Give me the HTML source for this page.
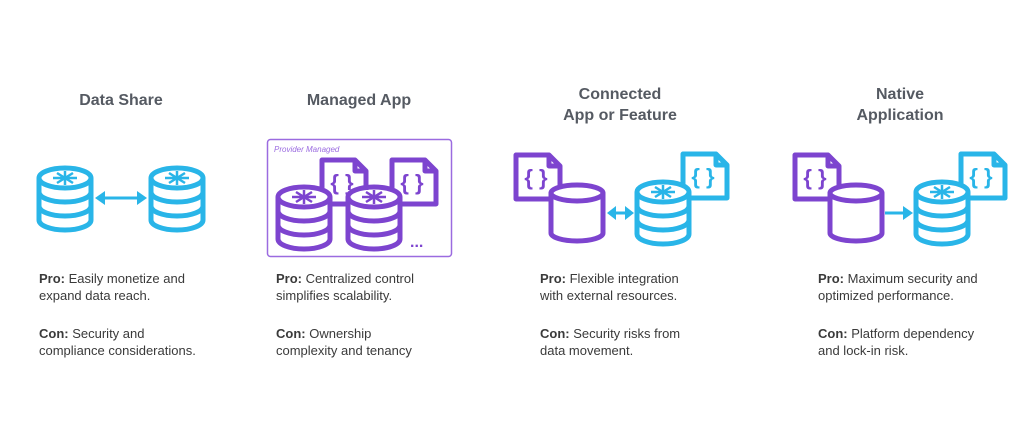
<!DOCTYPE html>
<html><head><meta charset="utf-8"><style>
html,body{margin:0;padding:0;background:#fff;width:1033px;height:445px;overflow:hidden}
svg{display:block}
.t{font-family:"Liberation Sans",sans-serif;font-weight:bold;font-size:16px;fill:#555a62;text-anchor:middle}
.p{font-family:"Liberation Sans",sans-serif;font-size:13px;fill:#3a3a3a}
.p tspan.b{font-weight:bold}
</style></head><body>
<svg width="1033" height="445" viewBox="0 0 1033 445" xmlns="http://www.w3.org/2000/svg">
<defs>
<g id="db" fill="none" stroke="currentColor" stroke-width="5" stroke-linejoin="round">
 <ellipse cx="29" cy="12" rx="26" ry="10"/>
 <path d="M3 12 V54 A26 10 0 0 0 55 54 V12"/>
 <path d="M3 26 A26 10 0 0 0 55 26"/>
 <path d="M3 40 A26 10 0 0 0 55 40"/>
 <path d="M17 12 H41 M29 5 V19 M21 7 L37 17 M21 17 L37 7" stroke-width="2.5"/>
</g>
<g id="cyl" stroke="currentColor" stroke-width="5" stroke-linejoin="round">
 <path d="M3 10 V50 A26 8 0 0 0 55 50 V10" fill="#fff"/>
 <ellipse cx="29" cy="10" rx="26" ry="8" fill="#fff"/>
</g>
<g id="doc" stroke="currentColor" stroke-width="5" stroke-linejoin="round">
 <path d="M3 3 H36 L47 14 V47 H3 Z" fill="#fff"/>
 <path d="M36 3 V14 H47" fill="none"/>
 <text x="23" y="33" font-family="Liberation Sans,sans-serif" font-weight="bold" font-size="22" text-anchor="middle" stroke="none" fill="currentColor">{ }</text>
</g>
</defs>

<text class="t" x="121" y="105">Data Share</text>
<text class="t" x="359" y="105">Managed App</text>
<text class="t" x="620" y="99">Connected</text>
<text class="t" x="620" y="120">App or Feature</text>
<text class="t" x="900" y="99">Native</text>
<text class="t" x="900" y="120">Application</text>

<g style="color:#29b5e8">
<use href="#db" x="36" y="166"/>
<use href="#db" x="148" y="166"/>
</g>
<path d="M100 198 H142" stroke="#29b5e8" stroke-width="3"/>
<path d="M95 198 L105 191 V205 Z M147 198 L137 191 V205 Z" fill="#29b5e8"/>

<rect x="267.5" y="139.5" width="184" height="117" rx="3" fill="none" stroke="#9b6be0" stroke-width="1.5"/>
<text x="274" y="152" font-family="Liberation Sans,sans-serif" font-style="italic" font-size="8" fill="#9b6be0">Provider Managed</text>
<g style="color:#7d44cf">
<use href="#doc" x="319" y="157"/>
<use href="#doc" x="389" y="157"/>
<rect x="277" y="190" width="52" height="60" fill="#fff"/>
<use href="#db" x="275" y="185"/>
<rect x="347" y="190" width="52" height="60" fill="#fff"/>
<use href="#db" x="345" y="185"/>
</g>
<text x="410" y="247" font-family="Liberation Sans,sans-serif" font-weight="bold" font-size="16" fill="#7d44cf">...</text>

<g style="color:#7d44cf"><use href="#doc" x="513" y="152"/><use href="#cyl" x="548" y="183"/></g>
<g style="color:#29b5e8"><use href="#doc" x="680" y="151"/><rect x="637" y="186" width="52" height="55" fill="#fff"/><use href="#db" x="634" y="180"/></g>
<path d="M607 213 L616 206 V220 Z M634 213 L625 206 V220 Z" fill="#29b5e8"/>
<path d="M614 213 H627" stroke="#29b5e8" stroke-width="3"/>

<g style="color:#7d44cf"><use href="#doc" x="792" y="152"/><use href="#cyl" x="827" y="183"/></g>
<g style="color:#29b5e8"><use href="#doc" x="958" y="151"/><rect x="916" y="186" width="52" height="55" fill="#fff"/><use href="#db" x="913" y="180"/></g>
<path d="M885 213 H905" stroke="#29b5e8" stroke-width="3"/>
<path d="M913 213 L903 206 V220 Z" fill="#29b5e8"/>

<text class="p" x="39" y="283"><tspan class="b">Pro:</tspan> Easily monetize and</text>
<text class="p" x="39" y="300">expand data reach.</text>
<text class="p" x="39" y="338"><tspan class="b">Con:</tspan> Security and</text>
<text class="p" x="39" y="355">compliance considerations.</text>

<text class="p" x="276" y="283"><tspan class="b">Pro:</tspan> Centralized control</text>
<text class="p" x="276" y="300">simplifies scalability.</text>
<text class="p" x="276" y="338"><tspan class="b">Con:</tspan> Ownership</text>
<text class="p" x="276" y="355">complexity and tenancy</text>

<text class="p" x="540" y="283"><tspan class="b">Pro:</tspan> Flexible integration</text>
<text class="p" x="540" y="300">with external resources.</text>
<text class="p" x="540" y="338"><tspan class="b">Con:</tspan> Security risks from</text>
<text class="p" x="540" y="355">data movement.</text>

<text class="p" x="818" y="283"><tspan class="b">Pro:</tspan> Maximum security and</text>
<text class="p" x="818" y="300">optimized performance.</text>
<text class="p" x="818" y="338"><tspan class="b">Con:</tspan> Platform dependency</text>
<text class="p" x="818" y="355">and lock-in risk.</text>
</svg>
</body></html>
